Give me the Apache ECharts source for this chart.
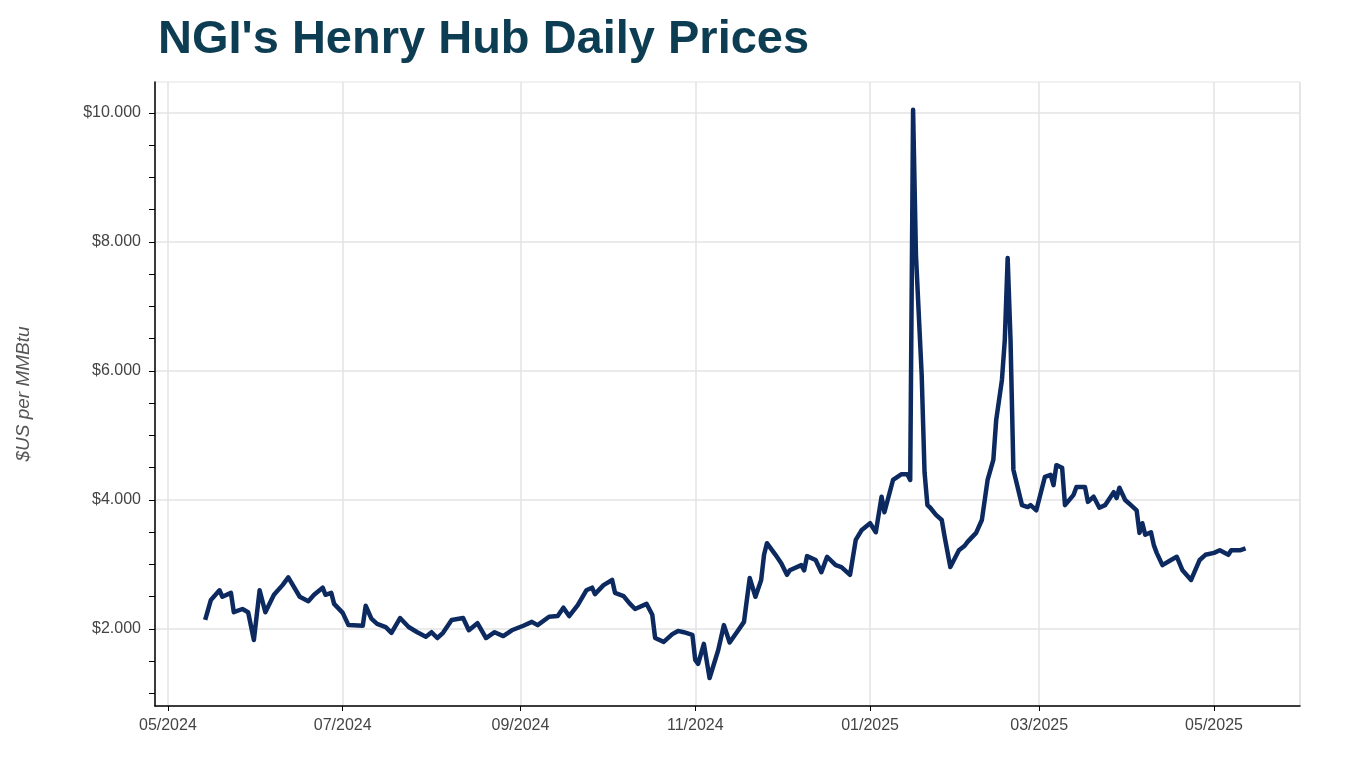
<!DOCTYPE html>
<html>
<head>
<meta charset="utf-8">
<script src="https://cdn.jsdelivr.net/npm/echarts@6/dist/echarts.min.js"></script>
<style>html,body{margin:0;background:#fff}#main{width:1360px;height:760px}</style>
</head>
<body>
<div id="main"></div>
<script>
// daily prices
const dates = ['2024-05-14','2024-05-16','2024-05-19','2024-05-20','2024-05-23','2024-05-24','2024-05-27','2024-05-29','2024-05-31','2024-06-02','2024-06-04','2024-06-07','2024-06-10','2024-06-12','2024-06-16','2024-06-19','2024-06-21','2024-06-24','2024-06-25','2024-06-27','2024-06-28','2024-07-01','2024-07-03','2024-07-08','2024-07-09','2024-07-11','2024-07-13','2024-07-16','2024-07-18','2024-07-21','2024-07-24','2024-07-27','2024-07-30','2024-08-01','2024-08-03','2024-08-05','2024-08-08','2024-08-12','2024-08-14','2024-08-17','2024-08-20','2024-08-23','2024-08-26','2024-08-29','2024-09-02','2024-09-05','2024-09-07','2024-09-11','2024-09-14','2024-09-16','2024-09-18','2024-09-21','2024-09-24','2024-09-26','2024-09-27','2024-09-30','2024-10-03','2024-10-04','2024-10-07','2024-10-09','2024-10-11','2024-10-15','2024-10-17','2024-10-18','2024-10-21','2024-10-24','2024-10-26','2024-10-28','2024-10-31','2024-11-01','2024-11-02','2024-11-04','2024-11-06','2024-11-09','2024-11-11','2024-11-13','2024-11-16','2024-11-18','2024-11-20','2024-11-22','2024-11-24','2024-11-25','2024-11-26','2024-11-29','2024-12-01','2024-12-03','2024-12-04','2024-12-08','2024-12-09','2024-12-10','2024-12-13','2024-12-15','2024-12-17','2024-12-20','2024-12-22','2024-12-25','2024-12-27','2024-12-29','2025-01-01','2025-01-03','2025-01-05','2025-01-06','2025-01-09','2025-01-12','2025-01-14','2025-01-15','2025-01-16','2025-01-17','2025-01-19','2025-01-20','2025-01-21','2025-01-22','2025-01-24','2025-01-26','2025-01-27','2025-01-29','2025-02-01','2025-02-03','2025-02-04','2025-02-07','2025-02-09','2025-02-11','2025-02-13','2025-02-14','2025-02-16','2025-02-17','2025-02-18','2025-02-19','2025-02-20','2025-02-23','2025-02-25','2025-02-26','2025-02-28','2025-03-03','2025-03-05','2025-03-06','2025-03-07','2025-03-09','2025-03-10','2025-03-13','2025-03-14','2025-03-17','2025-03-18','2025-03-20','2025-03-22','2025-03-24','2025-03-27','2025-03-28','2025-03-29','2025-03-31','2025-04-02','2025-04-04','2025-04-05','2025-04-06','2025-04-07','2025-04-09','2025-04-10','2025-04-11','2025-04-13','2025-04-16','2025-04-18','2025-04-20','2025-04-23','2025-04-26','2025-04-28','2025-05-01','2025-05-03','2025-05-06','2025-05-07','2025-05-10','2025-05-12'];
const prices = [2.14,2.45,2.60,2.50,2.56,2.26,2.31,2.26,1.83,2.60,2.26,2.53,2.68,2.80,2.50,2.43,2.53,2.64,2.53,2.56,2.39,2.25,2.06,2.05,2.36,2.16,2.08,2.03,1.94,2.17,2.03,1.95,1.88,1.95,1.86,1.94,2.14,2.17,1.98,2.09,1.86,1.95,1.89,1.98,2.05,2.11,2.06,2.19,2.20,2.33,2.20,2.37,2.60,2.64,2.54,2.68,2.76,2.56,2.51,2.40,2.31,2.39,2.22,1.86,1.80,1.92,1.97,1.95,1.91,1.52,1.46,1.77,1.24,1.67,2.06,1.79,1.98,2.11,2.79,2.50,2.76,3.15,3.33,3.15,3.02,2.84,2.91,2.99,2.91,3.13,3.07,2.88,3.12,2.99,2.96,2.84,3.38,3.53,3.64,3.50,4.05,3.81,4.31,4.40,4.40,4.31,10.05,7.80,5.94,4.43,3.92,3.88,3.77,3.69,3.43,2.96,3.22,3.29,3.35,3.49,3.69,4.31,4.62,5.24,5.86,6.48,7.75,6.48,4.47,3.92,3.89,3.92,3.84,4.36,4.39,4.23,4.54,4.50,3.92,4.08,4.20,4.20,3.97,4.05,3.88,3.92,4.12,4.03,4.19,4.00,3.92,3.84,3.49,3.64,3.46,3.50,3.30,3.18,2.99,3.07,3.12,2.91,2.76,3.07,3.15,3.18,3.22,3.15,3.22,3.22,3.25];
const yTicks = [2, 4, 6, 8, 10];
const yMinorTicks = [1, 1.5, 2, 2.5, 3, 3.5, 4, 4.5, 5, 5.5, 6, 6.5, 7, 7.5, 8, 8.5, 9, 9.5, 10];

const yMin = 0.806, yMax = 10.48;
const chart = echarts.init(document.getElementById('main'));
chart.setOption({
    animation: false,
    title: {
        text: "NGI's Henry Hub Daily Prices",
        left: 153, top: 12,
        textStyle: {fontFamily: 'Liberation Sans', fontSize: 47, fontWeight: 'bold', color: '#0d3d52'}
    },
    grid: {left: 155, right: 60, top: 82, bottom: 54, show: true, borderColor: '#e3e3e3', borderWidth: 1},
    xAxis: {
        type: 'time',
        min: '2024-04-26 12:00', max: '2025-05-31',
        minInterval: 59 * 86400000, maxInterval: 62 * 86400000,
        axisLine: {lineStyle: {color: '#000', width: 1.5}},
        axisTick: {lineStyle: {color: '#000'}},
        axisLabel: {formatter: '{MM}/{yyyy}', color: '#444', fontSize: 16, fontFamily: 'Liberation Sans', margin: 12},
        splitLine: {show: true, lineStyle: {color: '#e3e3e3', width: 1.5}}
    },
    yAxis: [{
        type: 'value',
        min: yMin, max: yMax,
        name: '$US per MMBtu', nameLocation: 'middle', nameGap: 122,
        nameTextStyle: {fontStyle: 'italic', fontSize: 19, color: '#555', fontFamily: 'Liberation Sans'},
        axisLine: {show: true, lineStyle: {color: '#000', width: 1.5}},
        axisTick: {show: true, length: 6, customValues: yTicks, lineStyle: {color: '#000'}},
        axisLabel: {customValues: yTicks, formatter: v => '$' + v.toFixed(3), color: '#444', fontSize: 16, fontFamily: 'Liberation Sans', margin: 14},
        splitLine: {lineStyle: {color: '#e3e3e3', width: 1.5}}
    }, {
        type: 'value',
        position: 'left',
        min: yMin, max: yMax,
        axisLine: {show: false},
        axisTick: {show: true, length: 6, customValues: yMinorTicks, lineStyle: {color: '#000'}},
        axisLabel: {show: false},
        splitLine: {show: false}
    }],
    series: [{
        type: 'line',
        data: dates.map((d, i) => [d, prices[i]]),
        showSymbol: false,
        lineStyle: {color: '#0c2a60', width: 4.5, join: 'round'}
    }]
});
</script>
</body>
</html>
